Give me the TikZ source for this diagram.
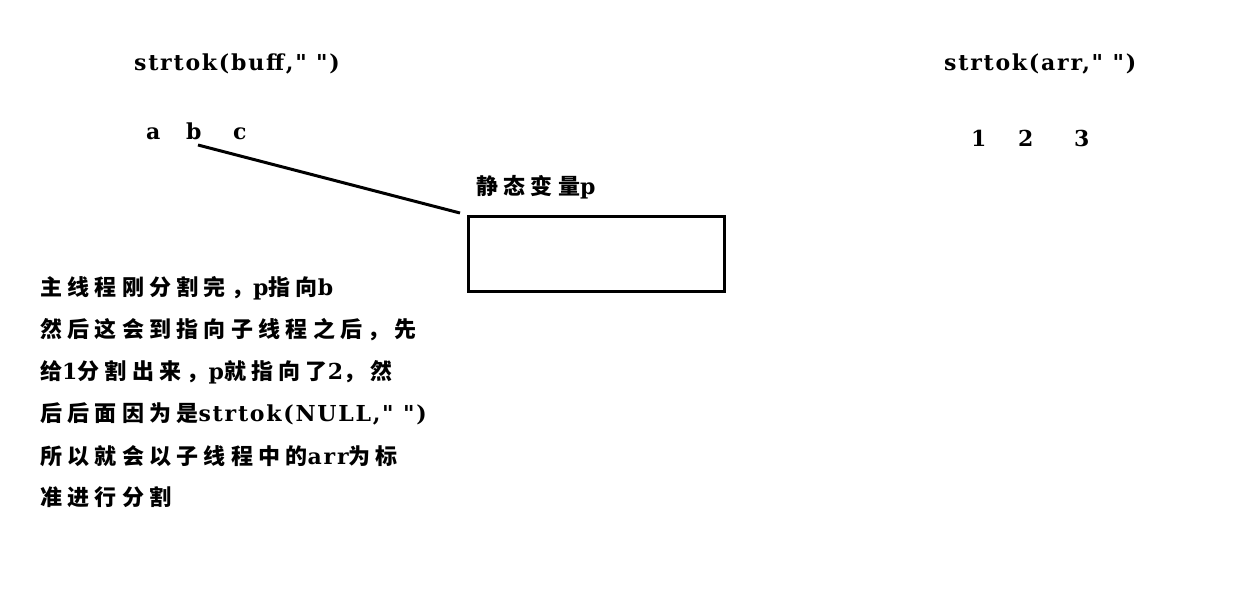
\documentclass[tikz,border=0pt]{standalone}
\usepackage{fontspec}
\setmainfont{DejaVu Serif}[Ligatures=TeXOff,LetterSpace=8]
\newfontfamily\cjk{Noto Sans CJK SC}[LetterSpace=24]
\newcommand\lat[1]{{\rmfamily\fontsize{22}{26}\selectfont\bfseries #1}}
\begin{document}
\begin{tikzpicture}[x=1pt,y=-1pt,
  txt/.style={anchor=base west,inner sep=0pt,font=\fontsize{22}{26}\selectfont\bfseries},
  ctx/.style={anchor=west,inner sep=0pt,font=\fontsize{22}{26}\selectfont\cjk\bfseries}]
\useasboundingbox (0,0) rectangle (1236,590);
\node[txt] (s1) at (134,70) {strtok(buff," ")};
\node[txt] (a) at (146,139) {a};
\node[txt] (b) at (186,139) {b};
\node[txt] (c) at (233,139) {c};
\node[txt] (s2) at (944,70) {strtok(arr," ")};
\node[txt] (n1) at (971,146) {1};
\node[txt] (n2) at (1018,146) {2};
\node[txt] (n3) at (1074,146) {3};
\node[ctx] (lab) at (476,187) {静态变量\lat{p}};
\node[draw,line width=3pt,minimum width=256,minimum height=75,anchor=north west,inner sep=0pt] (box) at (467,215) {};
\coordinate (bs) at (198,145);
\coordinate (be) at (460,213);
\draw[line width=3pt] (bs) -- (be);
\node[ctx] (t1) at (40,288) {主线程刚分割完，\lat{p}指向\lat{b}};
\node[ctx] (t2) at (40,330) {然后这会到指向子线程之后，先};
\node[ctx] (t3) at (40,372) {给\lat{1}分割出来，\lat{p}就指向了\lat{2}，然};
\node[ctx] (t4) at (40,414) {后后面因为是\lat{strtok(NULL," ")}};
\node[ctx] (t5) at (40,456) {所以就会以子线程中的\lat{arr}为标};
\node[ctx] (t6) at (40,497) {准进行分割};
\end{tikzpicture}
\end{document}
